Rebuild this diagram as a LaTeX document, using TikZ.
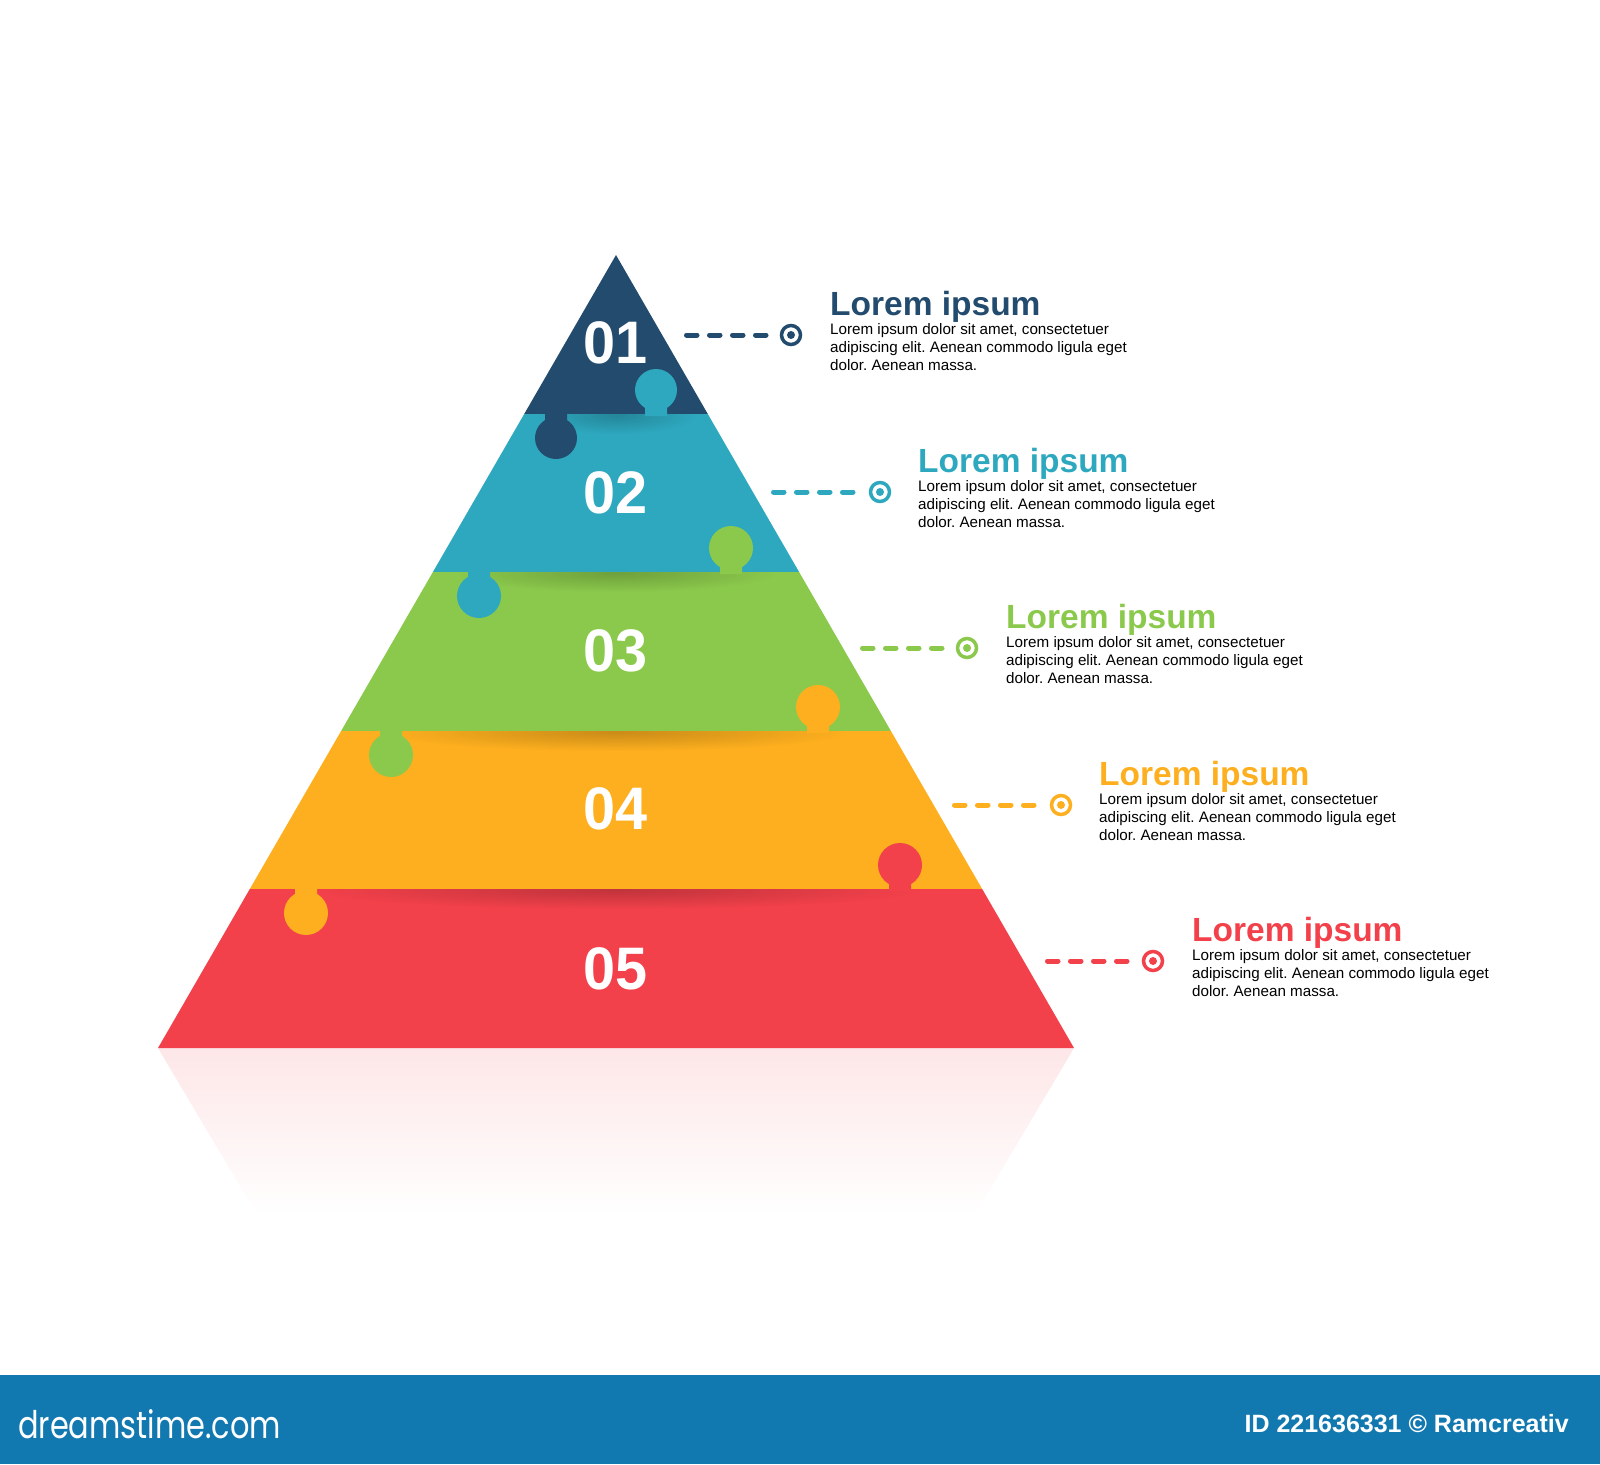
\documentclass[tikz,border=0pt]{standalone}
\usepackage{fontspec}
\setmainfont{Liberation Sans}
\newfontfamily\logofont{Poppins}
\usetikzlibrary{positioning,fadings}
\definecolor{navy}{HTML}{234B6E}
\definecolor{tealc}{HTML}{2EA8BF}
\definecolor{greenc}{HTML}{8BC94C}
\definecolor{orangec}{HTML}{FDAF1F}
\definecolor{redc}{HTML}{F2414B}
\definecolor{barblue}{HTML}{1178B0}
\tikzfading[name=softshadow, inner color=transparent!80, outer color=transparent!100]
\newcommand{\blurb}{Lorem ipsum dolor sit amet, consectetuer\\adipiscing elit. Aenean commodo ligula eget\\dolor. Aenean massa.}
\frenchspacing
\begin{document}
\begin{tikzpicture}[x=1pt, y=-1pt,
  shadowblob/.style={fill=black, path fading=softshadow},
  num/.style={text=white, inner sep=0pt, xscale=0.96, font=\bfseries\fontsize{60}{60}\selectfont},
  target/.style={circle, draw=#1, line width=3.5pt, minimum size=19pt, inner sep=0pt,
    path picture={\fill[#1] (path picture bounding box.center) circle[radius=4pt];}},
  leader/.style={draw=#1, line width=5pt, line cap=round, dash pattern=on 10.5pt off 12.5pt, shorten >=4pt},
  heading/.style={text=#1, anchor=base west, inner sep=0pt, font=\bfseries\fontsize{33.5}{33.5}\selectfont},
  body/.style={align=left, inner sep=0pt, anchor=north west, font=\fontsize{15.2}{18}\selectfont}]
\useasboundingbox (0,0) rectangle (1600,1464);
% corners of the tiers
\coordinate (a0) at (616,255);
\coordinate (l1) at (524.2,414); \coordinate (r1) at (707.8,414);
\coordinate (l2) at (432.9,572); \coordinate (r2) at (799.1,572);
\coordinate (l3) at (341.1,731); \coordinate (r3) at (890.9,731);
\coordinate (l4) at (249.8,889); \coordinate (r4) at (982.2,889);
\coordinate (l5) at (158,1048);  \coordinate (r5) at (1074,1048);
% reflection
\shade[top color=redc!13, bottom color=white] (l5) -- (r5) -- (975,1215) -- (257,1215) -- cycle;
% tiers
\fill[navy] (a0) -- (r1) -- (l1) -- cycle;
\fill[tealc] (l1) -- (r1) -- (r2) -- (l2) -- cycle;
\fill[greenc] (l2) -- (r2) -- (r3) -- (l3) -- cycle;
\fill[orangec] (l3) -- (r3) -- (r4) -- (l4) -- cycle;
\fill[redc] (l4) -- (r4) -- (r5) -- (l5) -- cycle;
% soft shadows under each joint
\begin{scope}
  \clip (l1) -- (r1) -- (r2) -- (l2) -- cycle;
  \fill[shadowblob] (536,396) rectangle (696,434);
\end{scope}
\begin{scope}
  \clip (l2) -- (r2) -- (r3) -- (l3) -- cycle;
  \fill[shadowblob] (456,554) rectangle (776,592);
\end{scope}
\begin{scope}
  \clip (l3) -- (r3) -- (r4) -- (l4) -- cycle;
  \fill[shadowblob] (386,713) rectangle (846,751);
\end{scope}
\begin{scope}
  \clip (l4) -- (r4) -- (r5) -- (l5) -- cycle;
  \fill[shadowblob] (316,871) rectangle (916,909);
\end{scope}
% puzzle knobs
\fill[navy] (545,412) rectangle (567,438) (556,438) circle[radius=21pt];
\fill[tealc] (645,390) rectangle (667,416) (656,390) circle[radius=21pt];
\fill[tealc] (468,570) rectangle (490,596) (479,596) circle[radius=22pt];
\fill[greenc] (720,548) rectangle (742,574) (731,548) circle[radius=22pt];
\fill[greenc] (380,729) rectangle (402,755) (391,755) circle[radius=22pt];
\fill[orangec] (807,707) rectangle (829,733) (818,707) circle[radius=22pt];
\fill[orangec] (295,887) rectangle (317,913) (306,913) circle[radius=22pt];
\fill[redc] (889,865) rectangle (911,891) (900,865) circle[radius=22pt];
% numbers
\node[num] (n1) at (616,343) {01};
\node[num] (n2) at (616,493) {02};
\node[num] (n3) at (616,651) {03};
\node[num] (n4) at (616,809) {04};
\node[num] (n5) at (616,969) {05};
% leaders and texts
\coordinate (s1) at (686.5,335);
\node[target=navy] (t1) at (791,335) {};
\draw[leader=navy] (s1) -- (t1);
\node[heading=navy] (h1) at ([xshift=39pt, yshift=20pt]t1.center) {Lorem ipsum};
\node[body, below=8.5pt of h1.base west, anchor=north west] (b1) {\blurb};

\coordinate (s2) at (773.5,492);
\node[target=tealc] (t2) at (880,492) {};
\draw[leader=tealc] (s2) -- (t2);
\node[heading=tealc] (h2) at ([xshift=38pt, yshift=20pt]t2.center) {Lorem ipsum};
\node[body, below=8.5pt of h2.base west, anchor=north west] (b2) {\blurb};

\coordinate (s3) at (862.5,648);
\node[target=greenc] (t3) at (967,648) {};
\draw[leader=greenc] (s3) -- (t3);
\node[heading=greenc] (h3) at ([xshift=39pt, yshift=20pt]t3.center) {Lorem ipsum};
\node[body, below=8.5pt of h3.base west, anchor=north west] (b3) {\blurb};

\coordinate (s4) at (954.5,805);
\node[target=orangec] (t4) at (1061,805) {};
\draw[leader=orangec] (s4) -- (t4);
\node[heading=orangec] (h4) at ([xshift=38pt, yshift=20pt]t4.center) {Lorem ipsum};
\node[body, below=8.5pt of h4.base west, anchor=north west] (b4) {\blurb};

\coordinate (s5) at (1047.5,961);
\node[target=redc] (t5) at (1153,961) {};
\draw[leader=redc] (s5) -- (t5);
\node[heading=redc] (h5) at ([xshift=39pt, yshift=20pt]t5.center) {Lorem ipsum};
\node[body, below=8.5pt of h5.base west, anchor=north west] (b5) {\blurb};
% stock bar
\fill[barblue] (0,1375) rectangle (1600,1464);
\node[anchor=west, text=white, inner sep=0pt, xscale=0.8, font=\logofont\fontsize{38}{38}\selectfont] (logo) at (18,1424) {dreamstime.com};
\node[anchor=east, text=white, inner sep=0pt, font=\bfseries\fontsize{25}{25}\selectfont] (credit) at (1569,1424) {ID 221636331 © Ramcreativ};
\end{tikzpicture}
\end{document}
